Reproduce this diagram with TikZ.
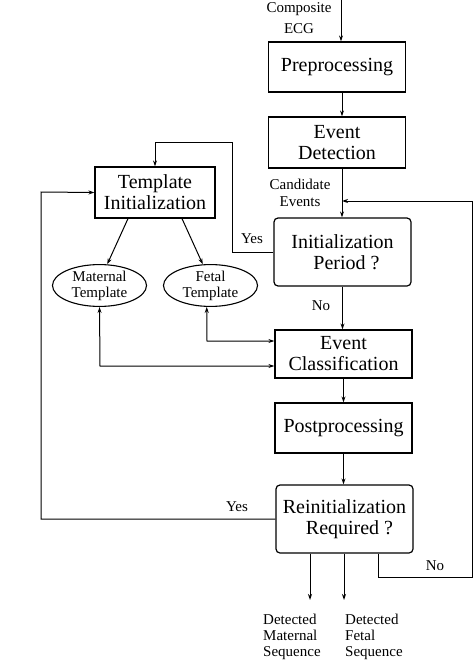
\documentclass[tikz,border=0pt]{standalone}
\usepackage{fontspec}
\setmainfont{Liberation Serif}
\usetikzlibrary{arrows.meta,shapes.geometric}
\tikzset{
  blok/.style={draw,line width=1.2pt,minimum width=137pt,minimum height=50pt,inner sep=0pt,align=center,font=\fontsize{20}{21}\selectfont},
  vraag/.style={blok,rounded corners=4pt,minimum height=68pt},
  sjabloon/.style={draw,ellipse,line width=1.1pt,minimum width=94pt,minimum height=41pt,inner sep=0pt,align=center,font=\fontsize{15}{16}\selectfont},
  lbl/.style={inner sep=0pt,align=center,font=\fontsize{15}{17}\selectfont},
  pijl/.style={line width=1pt,-{Stealth[length=6pt,width=4pt]}},
  tweepijl/.style={line width=1pt,{Stealth[length=6pt,width=4pt]}-{Stealth[length=6pt,width=4pt]}}
}
\begin{document}
\begin{tikzpicture}[x=1pt,y=-1pt]
      \useasboundingbox (0,0) rectangle (474,663);
      \node[blok] (pre) at (337,67) {Preprocessing};
      \node[blok,minimum height=51pt] (det) at (337,142.5) {Event\\Detection};
      \node[vraag] (ini) at (342.5,252) {Initialization\\\hspace*{8pt}Period ?};
      \node[blok,minimum width=120pt,minimum height=51pt] (tem) at (155,192.5) {Template\\Initialization};
      \node[sjabloon] (mat) at (99.5,285.5) {Maternal\\Template};
      \node[sjabloon] (fet) at (210.5,285.5) {Fetal\\Template};
      \node[blok,minimum height=48pt] (cla) at (343.5,354) {Event\\Classification};
      \node[blok] (pos) at (343.5,428) {Postprocessing};
      \node[vraag] (rei) at (344.5,519) {Reinitialization\\\hspace*{10pt}Required ?};
      \node[lbl,font=\fontsize{15}{21}\selectfont] (ecg) at (299,18) {Composite\\ECG};
      \node[lbl] (cand) at (300,193) {Candidate\\Events};
      \node[lbl] (ja1) at (252,239) {Yes};
      \node[lbl] (nee1) at (321,306) {No};
      \node[lbl] (ja2) at (237,507) {Yes};
      \node[lbl] (nee2) at (435,566) {No};
      \node[lbl,align=left,anchor=west,font=\fontsize{15}{16}\selectfont] (mseq) at (263,637) {Detected\\Maternal\\Sequence};
      \node[lbl,align=left,anchor=west,font=\fontsize{15}{16}\selectfont] (fseq) at (345,637) {Detected\\Fetal\\Sequence};
      \coordinate (in) at (341,0);
      \coordinate (as) at (342,0);
      \coordinate (knoop) at (342,201);
      \coordinate (y1) at (232,143);
      \coordinate (y2) at (41,192);
      \coordinate (m1) at (100,366);
      \coordinate (f1) at (207,341);
      \coordinate (r1) at (378,577);
      \coordinate (r2) at (472,577);
      \coordinate (u1) at (310,600);
      \coordinate (u2) at (344,600);
      \draw[pijl] (in) -- (in |- pre.north);
      \draw[pijl] (pre.south -| as) -- (det.north -| as);
      \draw[pijl] (det.south -| as) -- (ini.north -| as);
      \draw[pijl] (ini.south) -- (cla.north -| ini.south);
      \draw[pijl] (cla.south) -- (pos.north);
      \draw[pijl] (pos.south) -- (rei.north -| pos.south);
      \draw[pijl] (ini.west) -| (y1) -| (tem.north);
      \draw[pijl] (rei.west) -| (y2) -- (tem.west);
      \draw[pijl] (rei.south -| r1) -- (r1) -- (r2) |- (knoop);
      \draw[pijl] ([xshift=-27pt]tem.south) -- (mat.70);
      \draw[pijl] ([xshift=27pt]tem.south) -- (fet.110);
      \draw[tweepijl] (mat.south) -- (m1) -- (cla.west |- m1);
      \draw[tweepijl] (fet.260) -- (f1) -- (cla.west |- f1);
      \draw[pijl] (rei.south -| u1) -- (u1);
      \draw[pijl] (rei.south -| u2) -- (u2);
    \end{tikzpicture}
\end{document}
